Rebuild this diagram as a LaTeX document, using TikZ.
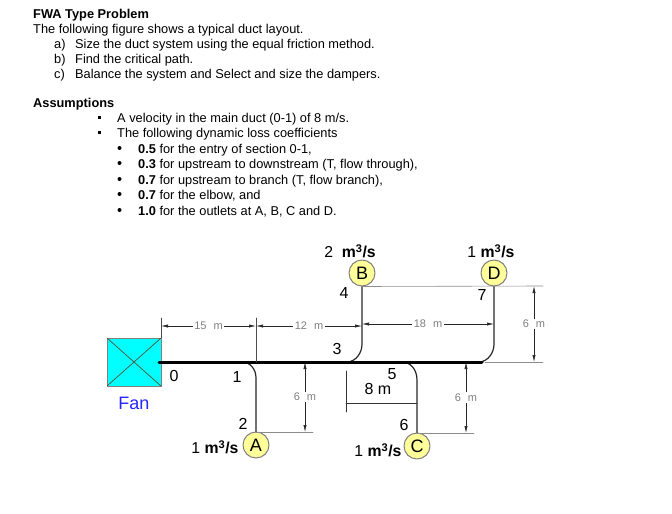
\documentclass[tikz,border=0pt]{standalone}
\usepackage{fontspec}
\setmainfont{Liberation Sans}
\usetikzlibrary{arrows.meta}
\definecolor{fancyan}{RGB}{0,255,255}
\definecolor{outletyellow}{RGB}{255,255,153}
\tikzset{
  txtline/.style={anchor=base west,inner sep=0pt,font=\fontsize{12.8}{15}\selectfont},
  labtxt/.style={inner sep=0pt,font=\fontsize{16}{18}\selectfont},
  flowtxt/.style={inner sep=0pt,font=\fontsize{15.8}{18}\selectfont},
  dimtxt/.style={fill=white,inner sep=1.5pt,text=black!50,font=\fontsize{11}{12}\selectfont},
  outlet/.style={circle,draw=black!50,fill=outletyellow,line width=1pt,minimum size=26pt,inner sep=0pt,font=\fontsize{18}{20}\selectfont},
  duct/.style={line width=1.2pt,black!85},
  dimline/.style={{Latex[length=7pt,width=3.2pt]}-{Latex[length=7pt,width=3.2pt]},black!85,line width=0.6pt},
  extline/.style={black!45,line width=0.6pt}
}
\begin{document}
\begin{tikzpicture}
    [line cap=round,line join=round,x=1pt,y=-1pt]
\useasboundingbox (0,0) rectangle (672,514);
%problem text
  \node[txtline,font=\fontsize{12.8}{15}\selectfont\bfseries] (title) at (33,19) {FWA Type Problem};
  \node[txtline] (intro) at (33,34) {The following figure shows a typical duct layout.};
  \node[txtline] (qa) at (54,48) {a)};
  \node[txtline] (qatxt) at (75,48) {Size the duct system using the equal friction method.};
  \node[txtline] (qb) at (54,63) {b)};
  \node[txtline] (qbtxt) at (75,63) {Find the critical path.};
  \node[txtline] (qc) at (54,78) {c)};
  \node[txtline] (qctxt) at (75,78) {Balance the system and Select and size the dampers.};
  \node[txtline,font=\fontsize{12.8}{15}\selectfont\bfseries] (assume) at (33,107) {Assumptions};
  \node[txtline] (velo) at (117,122) {A velocity in the main duct (0-1) of 8 m/s.};
  \node[txtline] (coef) at (117,137) {The following dynamic loss coefficients};
  \node[txtline] (cfa) at (138,153) {\textbf{0.5} for the entry of section 0-1,};
  \node[txtline] (cfb) at (138,168) {\textbf{0.3} for upstream to downstream (T, flow through),};
  \node[txtline] (cfc) at (138,184) {\textbf{0.7} for upstream to branch (T, flow branch),};
  \node[txtline] (cfd) at (138,199) {\textbf{0.7} for the elbow, and};
  \node[txtline] (cfe) at (138,215) {\textbf{1.0} for the outlets at A, B, C and D.};
%bullets
  \foreach \y in {117,132} \fill[black] (97.5,\y-1.5) rectangle (100.5,\y+1.5);
  \foreach \y in {148,163,179,194,210} \fill[black] (119.5,\y) circle (2);
%fan
  \draw[black!50,fill=fancyan,line width=0.8pt] (107,338) rectangle (161,386);
  \draw[black!50!brown,line width=0.6pt] (107,338) -- (161,386) (107,386) -- (161,338);
  \node[labtxt,font=\fontsize{18}{20}\selectfont,text=blue!85!white] (fan) at (134,403) {Fan};
%outlets
  \node[outlet] (A) at (256,445) {A};
  \node[outlet] (B) at (362,273) {B};
  \node[outlet] (C) at (417,446) {C};
  \node[outlet] (D) at (494,273) {D};
%the ducts
  \coordinate (start) at (159,362);
  \coordinate (end) at (482,362);
  \coordinate (elbowA) at (242,362);
  \coordinate (elbowB) at (348,362);
  \coordinate (elbowC) at (402,362);
  \coordinate (elbowD) at (480,362);
  \draw[duct] (elbowA) .. controls (250,362) and (256,369) .. (256,378) -- (A.north);
  \draw[duct] (elbowB) .. controls (356,361) and (362,353) .. (362,344) -- (B.south);
  \draw[duct] (elbowC) .. controls (410,362) and (417,369) .. (417,380) -- (C.north);
  \draw[duct] (elbowD) .. controls (488,361) and (494,353) .. (494,344) -- (D.south);
  \draw[black,line width=3pt] (start) -- (end);
%extension lines
  \coordinate (topAx) at (161,318);
  \coordinate (fanTop) at (161,338);
  \coordinate (topBx) at (256,318);
  \coordinate (midA) at (256,362);
  \coordinate (extB) at (543,286);
  \coordinate (extD) at (543,362);
  \coordinate (extDa) at (485,362);
  \coordinate (extA) at (313,432);
  \coordinate (extC) at (474,433);
  \draw[black!70,line width=0.6pt] (topAx) -- (fanTop);
  \draw[black!70,line width=0.6pt] (topBx) -- (midA);
  \draw[extline] (B.south) -- (extB);
  \draw[extline] (extDa) -- (extD);
  \draw[extline] (256,432) -- (extA);
  \draw[extline] (417,433) -- (extC);
%dimensions along the main duct
  \draw[dimline] (161,326) -- node[dimtxt] (d15) {15\hspace{7pt}m} (256,326);
  \draw[dimline] (256,326) -- node[dimtxt] (d12) {12\hspace{7pt}m} (362,326);
  \draw[dimline] (362,324) -- node[dimtxt] (d18) {18\hspace{7pt}m} (494,324);
  \draw[dimline] (534,286) -- node[dimtxt] (d6d) {6\hspace{7pt}m} (534,362);
  \draw[dimline] (305,362) -- node[dimtxt] (d6a) {6\hspace{7pt}m} (305,432);
  \draw[dimline] (466,362) -- node[dimtxt] (d6c) {6\hspace{7pt}m} (466,433);
%the 8 m offset
  \coordinate (tickUp) at (346,371);
  \coordinate (tickDn) at (346,412);
  \coordinate (tickMid) at (346,403);
  \coordinate (lineC) at (417,403);
  \draw[black!80,line width=0.6pt] (tickUp) -- (tickDn);
  \draw[black!80,line width=0.6pt] (tickMid) -- (lineC);
  \node[labtxt] (off) at (378,389) {8 m};
%section numbers
  \node[labtxt] (n0) at (174,376) {0};
  \node[labtxt] (n1) at (237,377) {1};
  \node[labtxt] (n2) at (243,424) {2};
  \node[labtxt] (n3) at (337,349) {3};
  \node[labtxt] (n4) at (344,293) {4};
  \node[labtxt] (n5) at (392,374) {5};
  \node[labtxt] (n6) at (404,425) {6};
  \node[labtxt] (n7) at (482,295) {7};
%flow rates
  \node[flowtxt] (qB) at (350,251) {2\ \ \textbf{m\textsuperscript{3}/s}};
  \node[flowtxt] (qD) at (491,251) {1 \textbf{m\textsuperscript{3}/s}};
  \node[flowtxt] (qA) at (215,447) {1 \textbf{m\textsuperscript{3}/s}};
  \node[flowtxt] (qC) at (378,450) {1 \textbf{m\textsuperscript{3}/s}};
\end{tikzpicture}
\end{document}
